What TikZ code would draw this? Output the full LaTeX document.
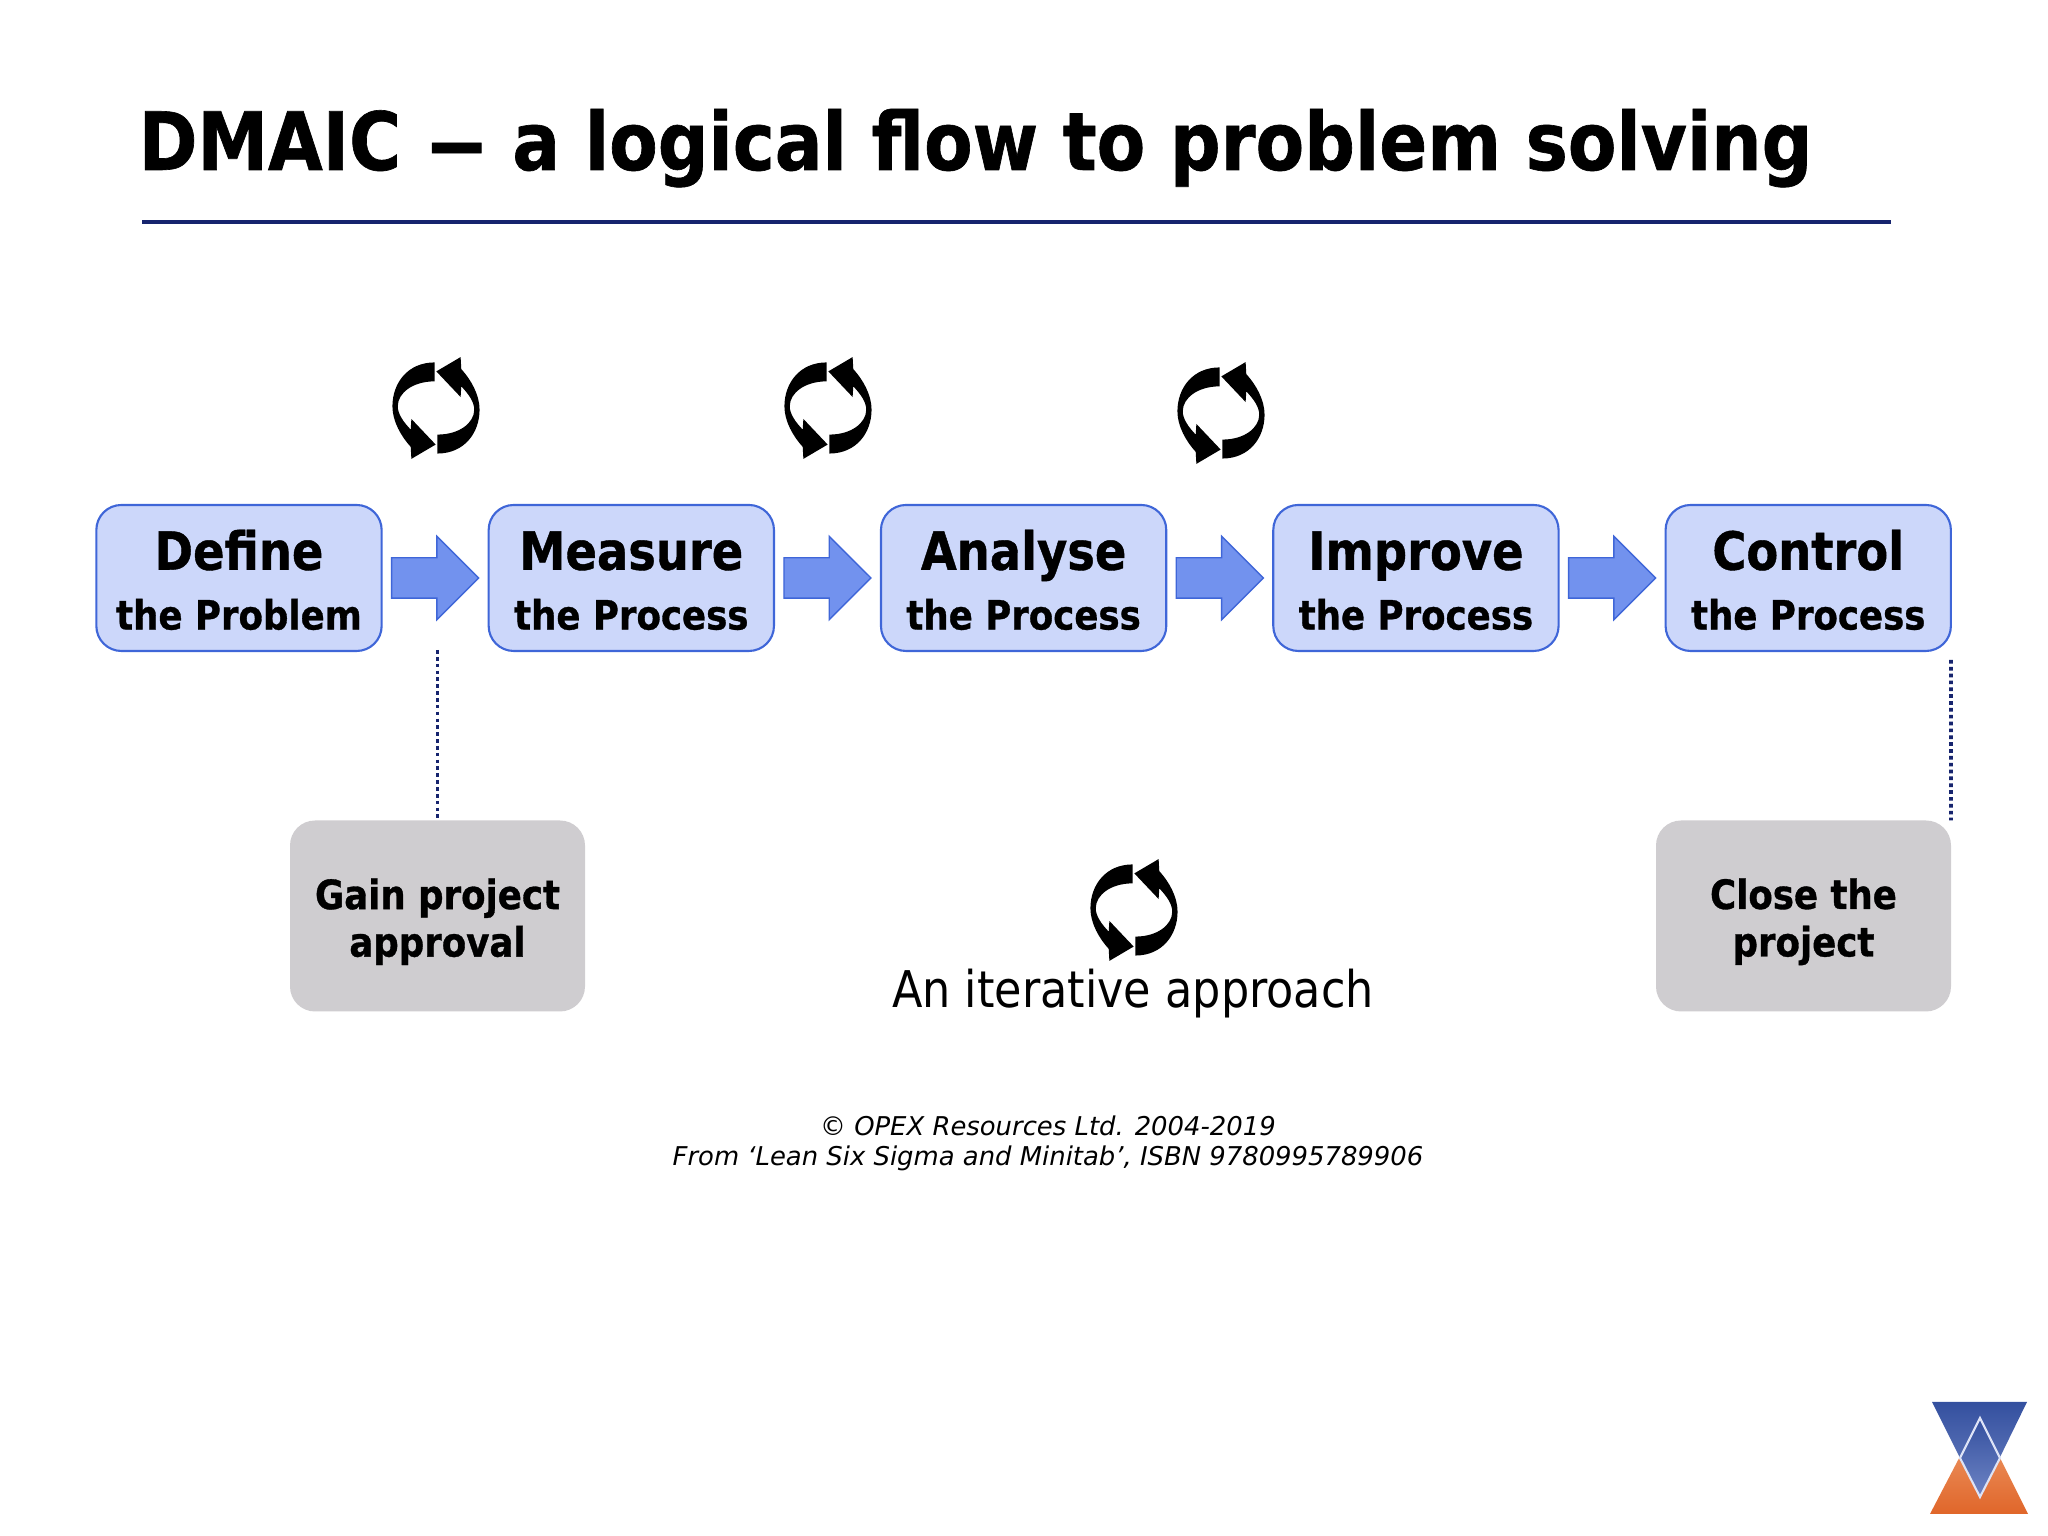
\documentclass[tikz,border=0pt]{standalone}
\usepackage{fontspec}
\setmainfont[FakeStretch=0.88,BoldFeatures={FakeBold=0.8}]{DejaVu Sans}
\newfontfamily\notefont{DejaVu Sans}
\usetikzlibrary{positioning,shapes.arrows}

\definecolor{stepfill}{HTML}{CCD7FA}
\definecolor{stepline}{HTML}{3F66D8}
\definecolor{arrowfill}{HTML}{7292EE}
\definecolor{greyfill}{HTML}{CFCDD0}
\definecolor{rulenavy}{HTML}{16246E}
\definecolor{logoblue}{HTML}{34509F}
\definecolor{logomid}{HTML}{6E84C4}
\definecolor{logoorange}{HTML}{E0662A}
\definecolor{logopeach}{HTML}{F0A070}
\definecolor{logoedge}{HTML}{DDE3F6}

\newcommand{\stephead}[1]{{\fontsize{15}{17}\selectfont\bfseries\rule{0pt}{12.5pt}#1}}
\newcommand{\stepsub}[1]{{\fontsize{11.5}{13}\selectfont\bfseries #1}}

\begin{document}
\begin{tikzpicture}[%
    node distance=1mm,
    stepbox/.style={%
      rectangle,
      rounded corners=0.25cm,
      minimum width=2.853cm,
      minimum height=1.46cm,
      inner sep=0pt,
      outer sep=0pt,
      align=center,
      fill=stepfill,
      draw=stepline,
      line width=0.6pt
    },
    blockarrow/.style={%
      single arrow,
      single arrow head extend=0.215cm,
      shape border rotate=0,
      minimum height=0.87cm,
      inner xsep=0pt,
      inner ysep=0.195cm,
      outer sep=0pt,
      fill=arrowfill,
      draw=stepline,
      line width=0.4pt
    },
    greybox/.style={%
      rectangle,
      rounded corners=0.25cm,
      minimum width=2.95cm,
      minimum height=1.91cm,
      inner sep=0pt,
      outer sep=0pt,
      align=center,
      fill=greyfill,
      font=\fontsize{11.5}{13.5}\selectfont\bfseries
    },
    dotline/.style={%
      rulenavy,
      line width=1.1pt,
      dash pattern=on 1.05pt off 0.9pt
    },
    cycle/.pic={%
      \foreach \turn in {0,180} {%
        \fill[black,rotate=\turn,x=0.00333cm,y=0.00333cm]
          (-4,137) .. controls (-85,137) and (-131,75) .. (-131,5)
          .. controls (-131,-40) and (-105,-85) .. (-76,-117)
          -- (-74,-153) -- (-1,-110) -- (-74,-33) -- (-76,-65)
          .. controls (-98,-42) and (-115,-18) .. (-115,5)
          .. controls (-115,45) and (-70,80) .. (-4,80) -- cycle;
      }
    }
  ]
    \useasboundingbox (0,0) rectangle (20.48,15.36);

    % title and rule
    \node[anchor=base west,inner sep=0pt,font=\fontsize{22.9}{28}\selectfont\bfseries] (title) at (1.38,13.66) {DMAIC \scalebox{1.75}[1]{--} a logical flow to problem solving};
    \coordinate (ruleleft) at (1.42,13.14);
    \coordinate (ruleright) at (18.91,13.14);
    \draw[rulenavy,line width=1.1pt] (ruleleft) -- (ruleright);

    % the five steps
    \node[stepbox] (define) at (2.39,9.58) {\stephead{Define}\\[5pt]\stepsub{the Problem}};
    \node[blockarrow] (arrowA) [right=of define] {};
    \node[stepbox] (measure) [right=of arrowA] {\stephead{Measure}\\[5pt]\stepsub{the Process}};
    \node[blockarrow] (arrowB) [right=of measure] {};
    \node[stepbox] (analyse) [right=of arrowB] {\stephead{Analyse}\\[5pt]\stepsub{the Process}};
    \node[blockarrow] (arrowC) [right=of analyse] {};
    \node[stepbox] (improve) [right=of arrowC] {\stephead{Improve}\\[5pt]\stepsub{the Process}};
    \node[blockarrow] (arrowD) [right=of improve] {};
    \node[stepbox] (control) [right=of arrowD] {\stephead{Control}\\[5pt]\stepsub{the Process}};

    \pic at (4.36,11.28) {cycle};
    \pic at (8.28,11.28) {cycle};
    \pic at (12.21,11.23) {cycle};
    \pic at (11.34,6.26) {cycle};

    % the two grey boxes
    \node[greybox] (gain) at (4.375,6.20) {\rule{0pt}{12pt}Gain project\\approval};
    \node[greybox] (close) at (18.035,6.20) {\rule{0pt}{12pt}Close the\\project};
    \coordinate (gaintop) at (4.375,8.86);
    \coordinate (closetop) at (19.51,8.76);
    \draw[dotline] (gaintop) -- (gain.north);
    \draw[dotline] (closetop) -- (close.north east);

    \node[font=\fontsize{14.4}{17}\selectfont] (iterative) at (11.33,5.42) {An iterative approach};
    \node[font=\notefont\fontsize{7.36}{8.6}\selectfont\itshape,align=center] (source) at (10.48,3.93) {© OPEX Resources Ltd. 2004-2019\\From ‘Lean Six Sigma and Minitab’, ISBN 9780995789906};

    % logo
    \shade[bottom color=logopeach,top color=logoorange,shading angle=180] (19.30,0.22) -- (20.28,0.22) -- (19.80,1.18) -- cycle;
    \shade[top color=logoblue,bottom color=logomid] (19.32,1.34) -- (20.27,1.34) -- (19.80,0.38) -- cycle;
    \shade[top color=logoblue,bottom color=logomid,draw=logoedge,line width=0.6pt] (19.80,1.18) -- (19.60,0.78) -- (19.80,0.39) -- (20.00,0.78) -- cycle;
  \end{tikzpicture}
\end{document}
